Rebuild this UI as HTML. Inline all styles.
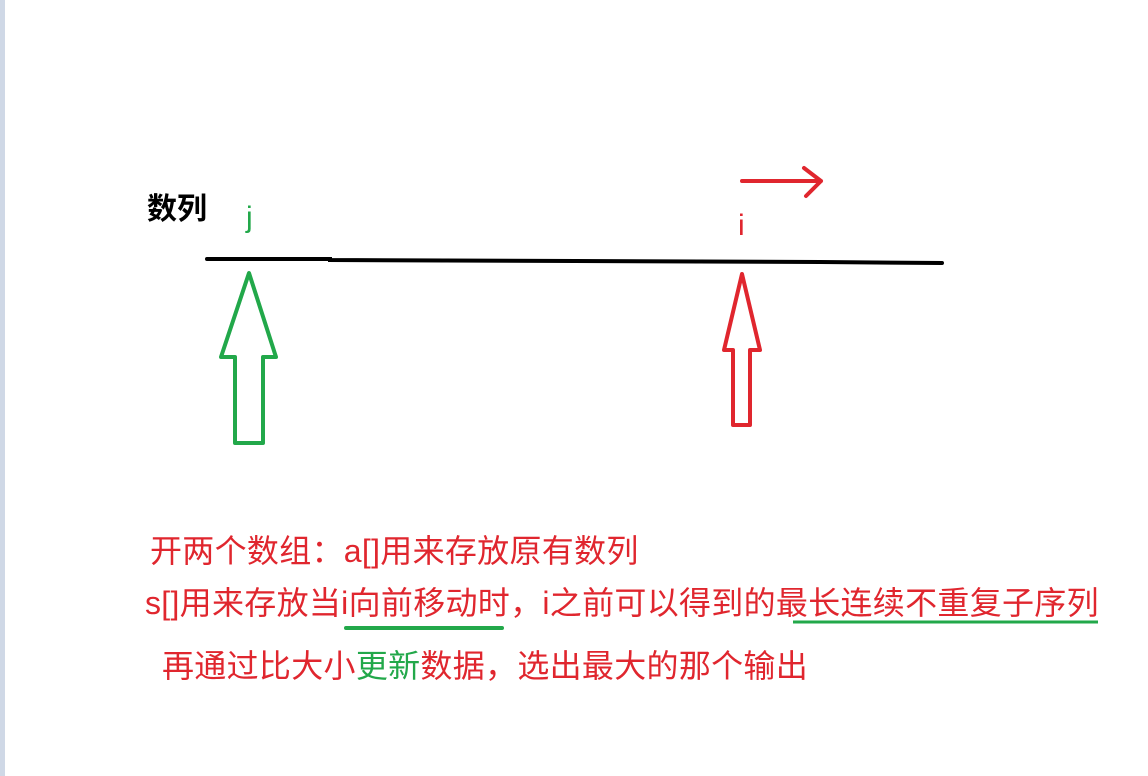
<!DOCTYPE html>
<html><head><meta charset="utf-8"><style>
body{margin:0;width:1148px;height:776px;background:#fff;position:relative;overflow:hidden;font-family:"Liberation Sans","Noto Sans CJK SC",sans-serif}
.t{position:absolute;white-space:nowrap;color:#e0262e;font-size:32px;letter-spacing:0.3px;line-height:1}
</style></head><body>
<div style="position:absolute;left:0;top:0;width:5px;height:776px;background:#cfd8e6"></div>
<svg width="1148" height="776" style="position:absolute;left:0;top:0">
<path d="M207 259 L330 259 L330 260 L575 261 L820 262 L942 263" stroke="#000" stroke-width="4" fill="none" stroke-linecap="round"/>
<polygon points="249,273 276,357 263,357 263,443 235,443 235,357 221,357" fill="none" stroke="#22a84a" stroke-width="4" stroke-linejoin="round"/>
<polygon points="742,274 760,350 750,350 750,425 733,425 733,350 724,350" fill="none" stroke="#e0262e" stroke-width="4" stroke-linejoin="round"/>
<path d="M742 181 L821 181 M804 168 L821 181 L806 196" stroke="#e0262e" stroke-width="4" fill="none" stroke-linecap="round" stroke-linejoin="round"/>
<path d="M346 628 L502 628" stroke="#22a84a" stroke-width="4" stroke-linecap="round"/>
<path d="M793 622 L1098 622" stroke="#22a84a" stroke-width="3"/>
</svg>
<div class="t" style="left:147px;top:195px;color:#000;font-weight:bold;font-size:30px;letter-spacing:0">数列</div>
<div class="t" style="left:246px;top:203px;color:#22a84a;font-size:30px">j</div>
<div class="t" style="left:738px;top:211px;font-size:30px">i</div>
<div class="t" style="left:150px;top:535px">开两个数组：a[]用来存放原有数列</div>
<div class="t" style="left:145px;top:587px">s[]用来存放当i向前移动时，i之前可以得到的最长连续不重复子序列</div>
<div class="t" style="left:162px;top:650px">再通过比大小<span style="color:#22a84a">更新</span>数据，选出最大的那个输出</div>
</body></html>
